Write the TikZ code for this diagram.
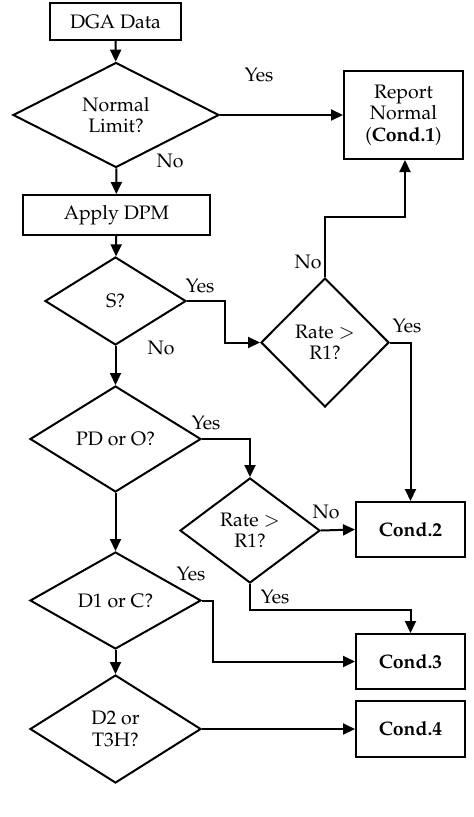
\documentclass[tikz,border=0pt]{standalone}
\usepackage[T1]{fontenc}
\usepackage{mathpazo}
\usetikzlibrary{arrows.meta,shapes.geometric,positioning}

\begin{document}
\begin{tikzpicture}[
    x=1pt, y=-1pt,
    every node/.style={font=\fontsize{19.5}{21.5}\selectfont},
    box/.style={draw, line width=2pt, align=center, inner sep=0pt},
    dec/.style={draw, diamond, line width=2pt, align=center, inner sep=0pt},
    lbl/.style={inner sep=0pt},
    arr/.style={-{Triangle[length=12pt,width=11pt]}, line width=2pt}
]
\useasboundingbox (0,0) rectangle (474,817);

\node[box, minimum width=131pt, minimum height=37pt] (dga) at (115.5,21.5) {DGA Data};
\node[dec, minimum width=206pt, minimum height=105pt] (normal) at (116,115) {Normal\\Limit?};
\node[box, minimum width=119pt, minimum height=88pt] (report) at (403.5,115) {Report\\Normal\\(\textbf{Cond.1})};
\node[box, minimum width=187pt, minimum height=40pt] (dpm) at (116.5,215) {Apply DPM};
\node[dec, minimum width=141pt, minimum height=88pt] (s) at (115.5,301) {S?};
\node[dec, minimum width=128pt, minimum height=129pt] (rate1) at (325,342.5) {Rate $>$\\R1?};
\node[dec, minimum width=171pt, minimum height=106pt] (pdo) at (115.5,439) {PD or O?};
\node[dec, minimum width=140pt, minimum height=105pt] (rate2) at (250,530.5) {Rate $>$\\R1?};
\node[box, minimum width=109pt, minimum height=55pt] (cond2) at (410.5,529.5) {\textbf{Cond.2}};
\node[dec, minimum width=171pt, minimum height=97pt] (d1c) at (115.5,600.5) {D1 or C?};
\node[box, minimum width=109pt, minimum height=55pt] (cond3) at (410.5,661.5) {\textbf{Cond.3}};
\node[dec, minimum width=171pt, minimum height=108pt] (d2t) at (115.5,729) {D2 or\\T3H?};
\node[box, minimum width=109pt, minimum height=56pt] (cond4) at (410.5,729) {\textbf{Cond.4}};

% branch labels
\node[lbl] (yesNormal) at (259,75) {Yes};
\node[lbl] (noNormal) at (170,161) {No};
\node[lbl] (noRate1) at (308,262) {No};
\node[lbl] (yesS) at (200,286) {Yes};
\node[lbl] (yesRate1) at (407,326) {Yes};
\node[lbl] (noS) at (161,348) {No};
\node[lbl] (yesPdo) at (206,423) {Yes};
\node[lbl] (noRate2) at (326,512) {No};
\node[lbl] (yesD1c) at (191,574) {Yes};
\node[lbl] (yesRate2) at (275,597) {Yes};

\draw[arr] (dga) -- (normal);
\draw[arr] (normal) -- (report);
\draw[arr] (normal) -- (dpm);
\draw[arr] (dpm) -- (s);
\draw[arr] (s.east) -- ++(38,0) |- (rate1.west);
\draw[arr] (rate1.north) -- ++(0,-60) -| ([xshift=1.5pt]report.south);
\draw[arr] (rate1.east) -| (cond2.north);
\draw[arr] (s) -- (pdo);
\draw[arr] (pdo.east) -| (rate2.north);
\draw[arr] (rate2.east) -- (cond2.west);
\draw[arr] (rate2.south) -- ++(0,26) -| (cond3.north);
\draw[arr] (pdo) -- (d1c);
\draw[arr] (d1c.east) -- ++(11,0) |- (cond3.west);
\draw[arr] (d1c) -- (d2t);
\draw[arr] (d2t) -- (cond4);
\end{tikzpicture}
\end{document}
